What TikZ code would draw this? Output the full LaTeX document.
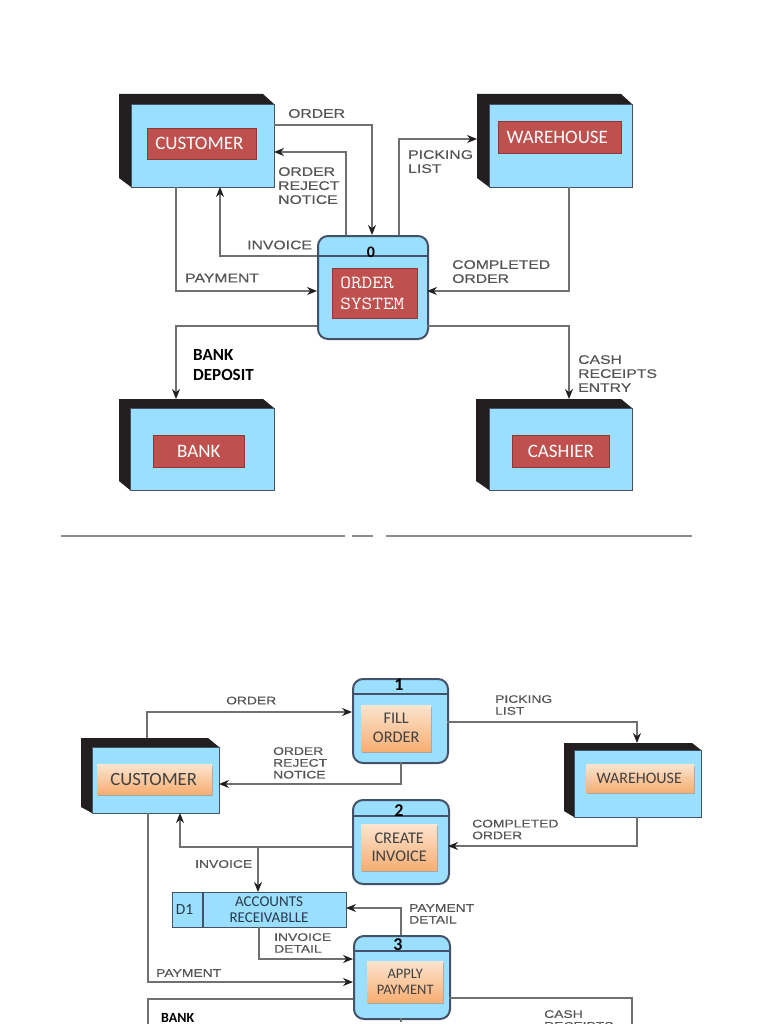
\documentclass[tikz,border=0pt]{standalone}
\usepackage{fontspec}
\setmainfont{Carlito}
\setmonofont[FakeStretch=1.12]{Latin Modern Mono}
\newfontfamily\lab[FakeStretch=1.26,FakeBold=0.3]{Liberation Sans}
\usetikzlibrary{arrows.meta}
\definecolor{skyb}{HTML}{9BDFFF}
\definecolor{redb}{HTML}{C0504D}
\definecolor{redl}{HTML}{8C3836}
\definecolor{edge}{HTML}{445269}
\definecolor{wire}{HTML}{707070}
\definecolor{labc}{HTML}{555555}
\definecolor{blk}{HTML}{231F20}
\definecolor{orT}{HTML}{FCE4CF}
\definecolor{orB}{HTML}{F7AE72}
\definecolor{inkb}{HTML}{2A3A4A}
\tikzset{
  wirel/.style={draw=wire,line width=1.2pt},
  flow/.style={wirel,-{Stealth[length=10pt,width=8pt,color=blk]}},
  tag/.style={font=\lab\fontsize{12.5}{14}\selectfont,text=labc,align=left,inner sep=0pt,anchor=west},
  tagsm/.style={font=\lab\fontsize{11}{11.8}\selectfont,text=labc,align=left,inner sep=0pt,anchor=west},
  blackt/.style={font=\bfseries\fontsize{17}{20}\selectfont,text=black,align=left,inner sep=0pt,anchor=west},
  rbox/.style={draw=redl,fill=redb,line width=.7pt,inner sep=0pt,text=white,align=center,font=\fontsize{19}{20}\selectfont},
  obox/.style={draw=none,top color=orT,bottom color=orB,inner sep=0pt,text=black!75,align=center,font=\fontsize{18.7}{19.5}\selectfont},
  shad/.style={fill=black!35},
  blue/.style={draw=edge,fill=skyb,line width=1.2pt},
  proc/.style={draw=edge,fill=skyb,line width=2pt,rounded corners=10pt},
  num/.style={font=\bfseries\fontsize{18}{18}\selectfont,text=black,inner sep=0pt},
  sect/.style={draw=black!45,line width=1.1pt}
}
\newcommand{\entity}[9]{%
  \fill[blk] (#2,#3) -- (#8,#3) -- (#6,#5) -- (#6,#5+4) -- (#4,#7) -- (#2,#9) -- cycle;
  \node[blue,minimum width=#6pt-#4pt,minimum height=#7pt-#5pt,anchor=north west,inner sep=0pt] (#1) at (#4,#5) {};
}
\newcommand{\labelbox}[7]{%
  \node[#2,minimum width=#5pt-#3pt,minimum height=#6pt-#4pt,anchor=north west] (#1) at (#3,#4) {#7};
}
\newcommand{\procbox}[6]{%
  \node[proc,minimum width=#4pt-#2pt,minimum height=#5pt-#3pt,anchor=north west,inner sep=0pt] (#1) at (#2,#3) {};
  \draw[edge,line width=1.6pt] (#2,#6) -- (#4,#6);
}
\begin{document}
\begin{tikzpicture}[x=1pt,y=-1pt]
\useasboundingbox (0,0) rectangle (768,1024);
\fill[white] (0,0) rectangle (768,1024);

% ---- upper diagram
\entity{cu}{119}{94}{131}{104}{274}{187}{263}{178}
\entity{wa}{477}{94}{489}{104}{632}{187}{621}{178}
\entity{ba}{119}{399}{130}{408}{274}{490}{263}{481}
\entity{ca}{476}{399}{489}{408}{632}{490}{621}{481}
\labelbox{cut}{rbox}{147}{128}{256}{159}{\hspace*{-5pt}CUSTOMER}
\labelbox{wat}{rbox}{498}{121}{621}{153}{\hspace*{-5pt}WAREHOUSE}
\labelbox{bat}{rbox}{153}{435}{244}{467}{BANK}
\labelbox{cat}{rbox}{512}{435}{609}{467}{CASHIER}
\procbox{os}{317}{235}{427}{338}{256}
\labelbox{ost}{rbox,align=left,font=\ttfamily\fontsize{18.5}{20.5}\selectfont}{332}{268}{417}{318}{\hspace*{-5pt}ORDER\\\hspace*{-5pt}SYSTEM}
\node[font=\bfseries\fontsize{16}{16}\selectfont,text=black,inner sep=0pt] (n0) at (371,252) {0};

\coordinate (a1) at (274,125);  \coordinate (a2) at (372,235);
\draw[flow] (a1) -| (a2);
\coordinate (b1) at (346,235);  \coordinate (b2) at (274,152);
\draw[flow] (b1) |- (b2);
\coordinate (c1) at (317,256);  \coordinate (c2) at (220,187);
\draw[flow] (c1) -| (c2);
\coordinate (d1) at (176,187);  \coordinate (d2) at (317,291);
\draw[flow] (d1) |- (d2);
\coordinate (e1) at (317,326);  \coordinate (e2) at (176,399);
\draw[flow] (e1) -| (e2);
\coordinate (f1) at (399,235);  \coordinate (f2) at (477,139);
\draw[flow] (f1) |- (f2);
\coordinate (g1) at (569,187);  \coordinate (g2) at (427,291);
\draw[flow] (g1) |- (g2);
\coordinate (h1) at (427,326);  \coordinate (h2) at (569,399);
\draw[flow] (h1) -| (h2);

\node[tag] (t1) at (288,113.5) {ORDER};
\node[tag,anchor=north west] (t2) at (278,167) {ORDER\\REJECT\\NOTICE};
\node[tag] (t3) at (247,245) {INVOICE};
\node[tag] (t4) at (185,278) {PAYMENT};
\node[tag,anchor=north west] (t5) at (408,150) {PICKING\\LIST};
\node[tag,anchor=north west] (t6) at (452,260) {COMPLETED\\ORDER};
\node[tag,anchor=north west] (t7) at (578,355) {CASH\\RECEIPTS\\ENTRY};
\node[blackt,anchor=north west] (t8) at (193,349) {BANK\\DEPOSIT};

% ---- separator
\coordinate (s1) at (61,536); \coordinate (s2) at (345,536);
\coordinate (s3) at (352,536); \coordinate (s4) at (373,536);
\coordinate (s5) at (386,536); \coordinate (s6) at (692,536);
\draw[sect] (s1) -- (s2); \draw[sect] (s3) -- (s4); \draw[sect] (s5) -- (s6);

% ---- lower diagram
\entity{cu2}{81}{738}{92}{747}{219}{813}{208}{807}
\entity{wa2}{564}{743}{574}{750}{701}{817}{692}{811}
\fill[shad] (98,766) rectangle (213,795.5);
\labelbox{cut2}{obox}{97}{764}{212}{794}{\hspace*{-2pt}CUSTOMER}
\fill[shad] (587,766) rectangle (695,793.5);
\labelbox{wat2}{obox,font=\fontsize{16}{18}\selectfont}{586}{764}{694}{792}{\hspace*{-2pt}WAREHOUSE}

\procbox{p1}{352}{678}{447}{762}{694}
\procbox{p2}{352}{799}{448}{883}{816}
\procbox{p3}{353}{935}{449}{1018}{951}
\node[num] (n1) at (399,685) {1};
\node[num] (n2) at (399,811) {2};
\node[num] (n3) at (398,945) {3};
\fill[shad] (362,707) rectangle (432,752.5);
\labelbox{p1t}{obox,font=\fontsize{16.3}{19}\selectfont}{361}{705}{431}{751}{FILL\\ORDER}
\fill[shad] (362,826) rectangle (438,871.5);
\labelbox{p2t}{obox,font=\fontsize{16.3}{18.5}\selectfont}{361}{824}{437}{870}{CREATE\\INVOICE}
\fill[shad] (368,963) rectangle (444,1003.5);
\labelbox{p3t}{obox,font=\fontsize{14.5}{16}\selectfont}{367}{961}{443}{1002}{APPLY\\PAYMENT}

\node[blue,minimum width=174pt,minimum height=35pt,anchor=north west,inner sep=0pt,line width=.9pt] (d1s) at (172,892) {};
\coordinate (dv1) at (203,892); \coordinate (dv2) at (203,927);
\draw[edge,line width=1.3pt] (dv1) -- (dv2);
\node[font=\fontsize{15.5}{16}\selectfont,text=inkb,inner sep=0pt] (d1l) at (184.5,910) {D1};
\node[font=\fontsize{15}{16}\selectfont,text=inkb,align=center,inner sep=0pt] (d1t) at (269,910) {ACCOUNTS\\RECEIVABLLE};

\coordinate (i1) at (147,738); \coordinate (i2) at (352,712);
\draw[flow] (i1) |- (i2);
\coordinate (j1) at (401,762); \coordinate (j2) at (219,784);
\draw[flow] (j1) |- (j2);
\coordinate (k1) at (352,847); \coordinate (k2) at (180,813);
\draw[flow] (k1) -| (k2);
\coordinate (k3) at (258,847); \coordinate (k4) at (258,892);
\draw[flow] (k3) -- (k4);
\coordinate (l1) at (259,927); \coordinate (l2) at (353,959);
\draw[flow] (l1) |- (l2);
\coordinate (m1) at (148,813); \coordinate (m2) at (353,982);
\draw[flow] (m1) |- (m2);
\coordinate (n1c) at (353,999); \coordinate (n2c) at (148,1024);
\draw[wirel] (n1c) -| (n2c);
\coordinate (o1) at (447,722); \coordinate (o2) at (637,743);
\draw[flow] (o1) -| (o2);
\coordinate (q1) at (637,817); \coordinate (q2) at (448,846);
\draw[flow] (q1) |- (q2);
\coordinate (r1) at (401,935); \coordinate (r2) at (346,908);
\draw[flow] (r1) |- (r2);
\coordinate (u1) at (449,998); \coordinate (u2) at (632,1024);
\draw[wirel] (u1) -| (u2);
\coordinate (v1) at (401,1018); \coordinate (v2) at (401,1022);
\draw[wirel] (v1) -- (v2);

\node[tagsm] (w1) at (226,700.5) {ORDER};
\node[tagsm,anchor=north west] (w2) at (273,747) {ORDER\\REJECT\\NOTICE};
\node[tagsm] (w3) at (195,864) {INVOICE};
\node[tagsm,anchor=north west] (w4) at (274,933) {INVOICE\\DETAIL};
\node[tagsm] (w5) at (156,973) {PAYMENT};
\node[tagsm,anchor=north west] (w6) at (495,695) {PICKING\\LIST};
\node[tagsm,anchor=north west] (w7) at (472,819.5) {COMPLETED\\ORDER};
\node[tagsm,anchor=north west] (w8) at (409,904) {PAYMENT\\DETAIL};
\node[tagsm,anchor=north west] (w9) at (544,1010) {CASH\\RECEIPTS};
\node[blackt,font=\bfseries\fontsize{14}{15}\selectfont,anchor=north west] (w10) at (161,1013) {BANK};
\end{tikzpicture}
\end{document}
